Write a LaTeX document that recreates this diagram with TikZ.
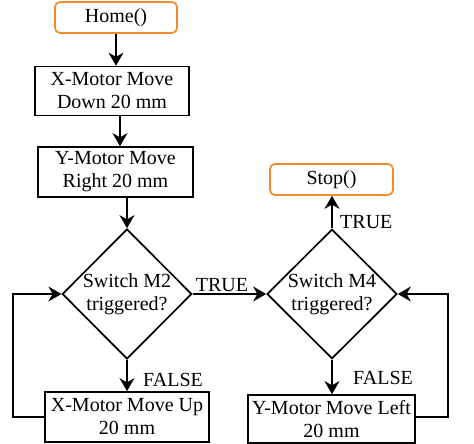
\documentclass[tikz,border=0pt]{standalone}
\usepackage{fontspec}
\setmainfont{Liberation Serif}
\usetikzlibrary{shapes.geometric,arrows.meta}
\definecolor{termorange}{RGB}{240,140,45}
\begin{document}
\begin{tikzpicture}[x=1pt,y=-1pt,
  every node/.style={font=\fontsize{20}{23}\selectfont, align=center, inner sep=0pt},
  term/.style={draw=termorange, line width=1.7pt, rounded corners=5pt, minimum height=31pt},
  proc/.style={draw=black, line width=1.7pt},
  dec/.style={draw=black, line width=1.7pt, diamond, aspect=1},
  arr/.style={line width=1.7pt, -{Stealth[length=13pt,width=15pt]}},
  lbl/.style={inner sep=2pt}]
\useasboundingbox (0,0) rectangle (474,444);
\node[term, minimum width=122pt] (home) at (116,17.5) {Home()};
\node[proc, minimum width=154pt, minimum height=49pt] (xdown) at (112,91) {X-Motor Move\\Down 20 mm};
\node[proc, minimum width=155pt, minimum height=50pt] (yright) at (115.5,172) {Y-Motor Move\\Right 20 mm};
\node[dec, minimum width=129pt, minimum height=130pt] (d1) at (127,294) {Switch M2\\triggered?};
\node[proc, minimum width=164pt, minimum height=50pt] (xup) at (127,417) {X-Motor Move Up\\20 mm};
\node[dec, minimum width=130pt, minimum height=129pt] (d2) at (332,294) {Switch M4\\triggered?};
\node[term, minimum width=123pt] (stop) at (331.5,179.5) {Stop()};
\node[proc, minimum width=167pt, minimum height=48pt] (yleft) at (331.5,419) {Y-Motor Move Left\\20 mm};
\coordinate (l1) at (13,417);
\coordinate (l2) at (448,417);
% arrows
\draw[arr] (home.south) -- (home.south |- xdown.north);
\draw[arr] ([xshift=8pt]xdown.south) -- ([xshift=8pt]xdown.south |- yright.north);
\draw[arr] (yright.south -| d1.north) -- (d1.north);
\draw[arr] (d1.south) -- (d1.south |- xup.north);
\draw[arr] (xup.west |- l1) -- (l1) -- (l1 |- d1.west) -- (d1.west);
\draw[arr] (d1.east) -- (d2.west);
\draw[arr] (d2.north) -- (d2.north |- stop.south);
\draw[arr] (d2.south) -- (d2.south |- yleft.north);
\draw[arr] (yleft.east |- l2) -- (l2) -- (l2 |- d2.east) -- (d2.east);
% labels
\node[lbl, anchor=south west] (t1) at ([xshift=1pt]d1.east) {TRUE};
\node[lbl, anchor=west] (f1) at (141,380) {FALSE};
\node[lbl, anchor=west] (t2) at (338,222) {TRUE};
\node[lbl, anchor=west] (f2) at (351,378) {FALSE};
\end{tikzpicture}
\end{document}
